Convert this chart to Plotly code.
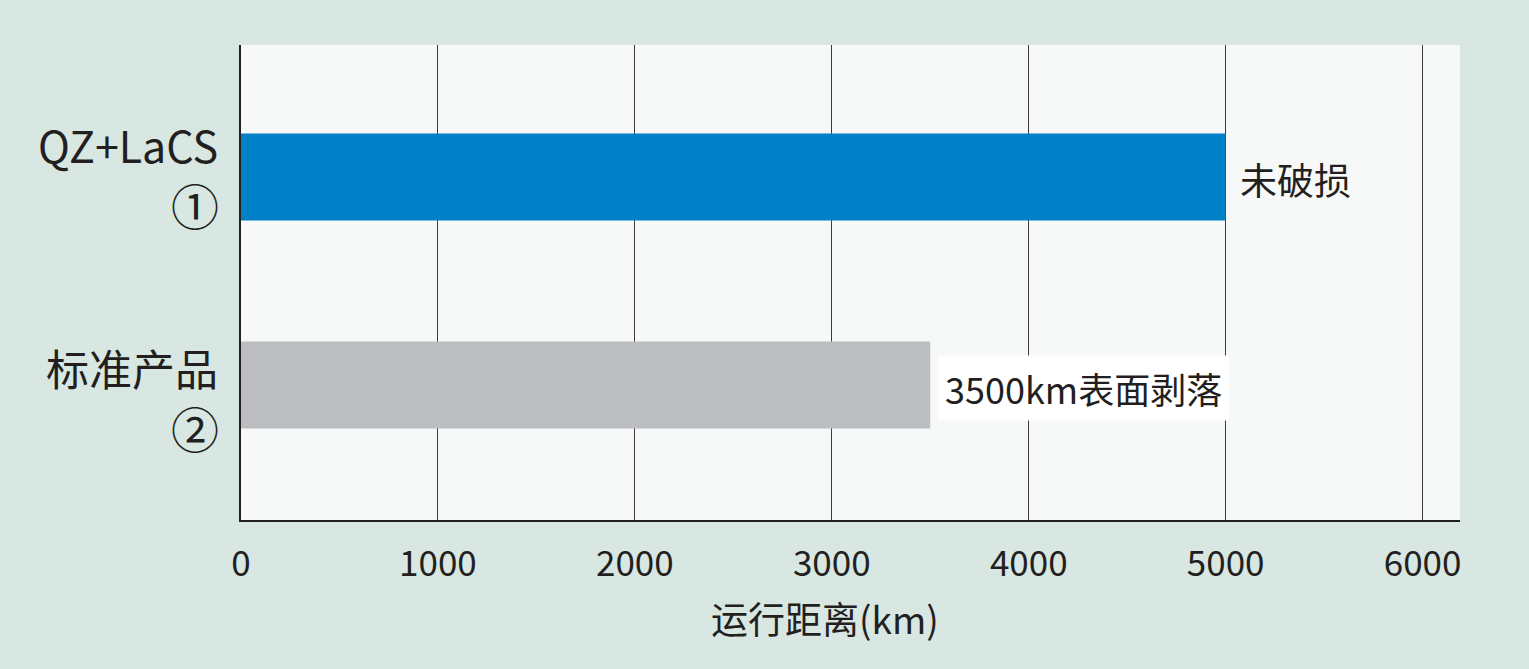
import plotly.graph_objects as go

categories = ["QZ+LaCS", "标准产品"]
markers = ["①", "②"]
distance_km = [5000, 3500]
bar_colors = ["#0080c6", "#bcbdc1"]
notes = ["未破损", "3500km表面剥落"]
x_ticks = [0, 1000, 2000, 3000, 4000, 5000, 6000]

font = "Noto Sans CJK SC"
ink = "#231f20"

fig = go.Figure()
fig.add_trace(go.Bar(x=distance_km,
                     y=categories,
                     orientation="h",
                     width=0.418,
                     marker=dict(color=bar_colors, line=dict(width=0)),
                     hoverinfo="x+y"))

# name and circled number beside each bar
label_shifts = [(33, -27), (18, -42)]
for cat, mark, (s1, s2) in zip(categories, markers, label_shifts):
    fig.add_annotation(x=0, xref="paper", y=cat, yref="y", text=cat,
                       showarrow=False, xanchor="right", xshift=-21, yshift=s1,
                       font=dict(family=font, size=43, color=ink))
    fig.add_annotation(x=0, xref="paper", y=cat, yref="y", text=mark,
                       showarrow=False, xanchor="right", xshift=-20, yshift=s2,
                       font=dict(family=font, size=48, color=ink))

# result notes at the bar ends
fig.add_annotation(x=distance_km[0], y=categories[0], text=notes[0],
                   showarrow=False, xanchor="left", xshift=12, yshift=-2,
                   font=dict(family=font, size=37, color=ink))
fig.add_annotation(x=distance_km[1], y=categories[1], text=notes[1],
                   showarrow=False, xanchor="left", xshift=8, yshift=-3,
                   bgcolor="white", borderpad=6,
                   font=dict(family=font, size=36, color=ink))

# x axis title, sits a little left of the plot centre
fig.add_annotation(x=(825 - 241) / 1219, xref="paper", y=0, yref="paper",
                   text="运行距离(km)", showarrow=False,
                   yanchor="middle", yshift=-98,
                   font=dict(family=font, size=37, color=ink))

fig.update_layout(width=1529, height=669,
                  margin=dict(l=241, r=69, t=45, b=149),
                  paper_bgcolor="#d8e7e2",
                  plot_bgcolor="#f7f9f8",
                  showlegend=False,
                  font=dict(family=font, color=ink))

fig.update_xaxes(range=[0, 6190],
                 tickvals=x_ticks,
                 ticks="", ticklabelstandoff=12,
                 tickfont=dict(family=font, size=35, color=ink),
                 showgrid=True, gridcolor="#3c3c3c", gridwidth=1,
                 zeroline=False,
                 showline=True, linecolor=ink, linewidth=2)

fig.update_yaxes(type="category",
                 categoryorder="array", categoryarray=categories,
                 range=[1.649, -0.635],
                 showticklabels=False, ticks="",
                 showgrid=False, zeroline=False,
                 showline=True, linecolor=ink, linewidth=2)

# drop the page margin so the figure fills the window
fig.write_html("out.html",
               config={"displayModeBar": False},
               post_script="document.body.style.margin='0';"
                           "document.body.style.background='#d8e7e2';")
